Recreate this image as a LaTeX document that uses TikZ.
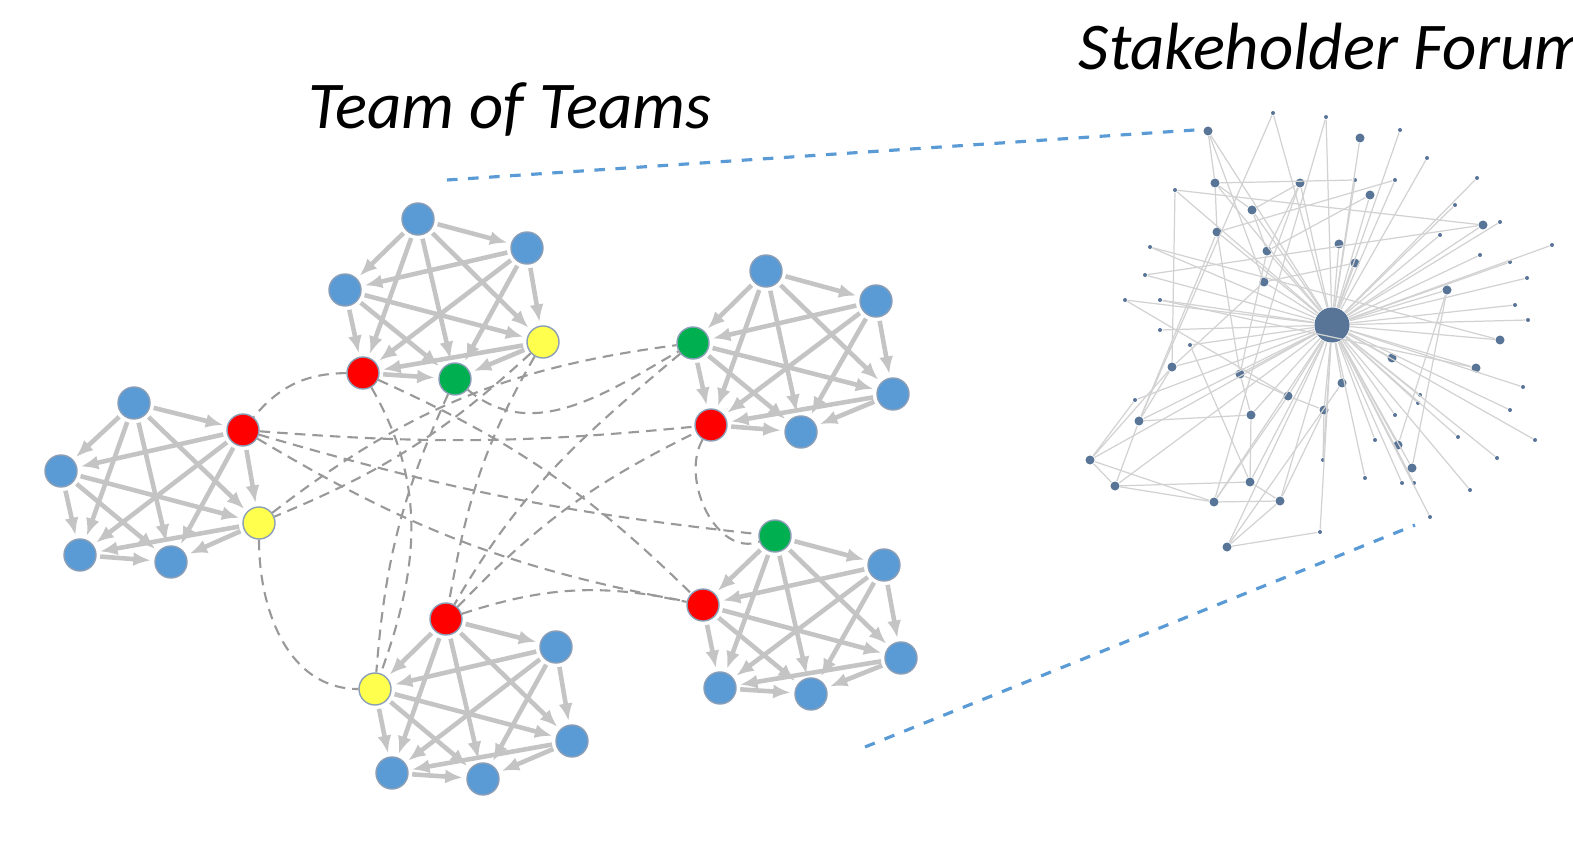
\documentclass[tikz,border=0pt]{standalone}
\usepackage{fontspec}
\setmainfont{Carlito}
\usetikzlibrary{arrows.meta}
\definecolor{nblue}{HTML}{5B9BD5}
\definecolor{nred}{HTML}{FF0000}
\definecolor{ngreen}{HTML}{00B050}
\definecolor{nyellow}{HTML}{FFFF4D}
\definecolor{hubblue}{HTML}{587497}
\definecolor{edgegray}{HTML}{C4C4C4}
\tikzset{
	member/.style={circle, draw=hubblue!70, line width=0.4pt, minimum size=0.32cm, inner sep=0pt},
	link/.style={-{Latex[length=5pt,width=4pt]}, edgegray, line width=1.3pt, shorten >=1pt, shorten <=1pt},
	bridge/.style={densely dashed, gray!80, line width=0.6pt},
	zoomline/.style={dashed, nblue, line width=0.9pt},
	hub/.style={circle, fill=hubblue, inner sep=0pt},
	spoke/.style={gray!35, line width=0.35pt},
	title/.style={font=\itshape\fontsize{19}{22}\selectfont}
}
\begin{document}
\begin{tikzpicture}[x=0.01cm,y=-0.01cm]
	\useasboundingbox (0,0) rectangle (1573,843);
	% Titles
	\node[title] (tt) at (510,110) {Team of Teams};
	\node[title] (sf) at (1333,47) {Stakeholder Forum};
	
	% Stakeholder network
	\node (hub) [hub, minimum size=0.35cm] at (1332,325) {};
	\foreach \p [count=\i] in {(1300,183),(1267,251),(1264,282),(1339,244),(1447,290),(1342,383),(1172,367),(1240,374),(1288,396),(1324,410),(1139,421),(1115,486),(1214,502),(1280,501),(1250,482),(1251,415),(1217,232),(1215,183),(1252,210),(1355,263),(1392,358),(1370,195),(1227,547),(1090,460),(1208,131),(1360,138),(1412,468),(1398,445),(1476,368),(1483,225),(1500,340)}
		\node (m\i) [hub, minimum size=0.09cm] at \p {};
	\foreach \p [count=\i] in {(1273,113),(1326,117),(1400,130),(1355,180),(1427,158),(1395,180),(1477,178),(1500,222),(1510,262),(1527,278),(1528,320),(1523,387),(1510,410),(1497,458),(1535,440),(1470,490),(1430,517),(1414,483),(1458,437),(1402,483),(1320,532),(1323,460),(1365,478),(1418,403),(1175,190),(1150,247),(1160,300),(1125,300),(1145,275),(1190,345),(1135,400),(1160,330),(1552,245),(1515,305),(1480,255),(1420,395),(1395,415),(1375,440),(1440,235),(1455,205)}
		\node (p\i) [hub, minimum size=0.04cm] at \p {};
	\foreach \i in {1,...,31} \draw[spoke] (hub) -- (m\i);
	\foreach \i in {1,...,40} \draw[spoke] (hub) -- (p\i);
	\foreach \a/\b in {1/2,1/3,2/8,3/7,7/11,11/12,12/13,13/14,14/15,15/16,16/8,8/9,9/10,7/24,24/12,11/16,18/19,19/2,25/18,25/3,17/8,17/11,13/9,14/10,24/13,12/15,23/14,5/27,5/28,6/23,20/3,22/2,1/19,18/17}
		\draw[spoke] (m\a) -- (m\b);
	\foreach \a/\b in {25/7,25/30,26/31,27/29,28/9,29/30,30/15,31/24,4/18,6/17,2/13,1/11,21/23,22/10}
		\draw[spoke] (p\a) -- (m\b);
	
	% Teams
	\foreach \team/\members in {a/{(418,219)/nblue,(527,248)/nblue,(345,290)/nblue,(543,342)/nyellow,(363,373)/nred,(455,379)/ngreen},
		b/{(766,271)/nblue,(876,301)/nblue,(693,343)/ngreen,(893,394)/nblue,(711,425)/nred,(801,432)/nblue},
		c/{(134,403)/nblue,(243,430)/nred,(61,471)/nblue,(259,523)/nyellow,(80,555)/nblue,(171,562)/nblue},
		d/{(775,536)/ngreen,(884,565)/nblue,(703,605)/nred,(901,658)/nblue,(720,688)/nblue,(811,694)/nblue},
		e/{(446,619)/nred,(556,647)/nblue,(375,689)/nyellow,(572,741)/nblue,(392,773)/nblue,(483,779)/nblue}}
	{
		\foreach \p/\col [count=\k] in \members
			\node (\team\k) [member, fill=\col] at \p {};
		\foreach \k in {1,...,5}{
			\pgfmathtruncatemacro\nxt{\k+1}
			\foreach \j in {\nxt,...,6}
				\draw[link] (\team\k) -- (\team\j);
		}
	}
	
	% Links between teams
	\draw[bridge] (a5) to[bend right=25] (c2);
	\draw[bridge] (a6) to[out=-40,in=-150] (b3);
	\draw[bridge] (a4) to[bend left=10] (c4);
	\draw[bridge] (a5) to[bend left=10] (d3);
	\draw[bridge] (a5) to[out=-60,in=70] (e3);
	\draw[bridge] (a4) to[out=-120,in=80] (e1);
	\draw[bridge] (c2) to[bend right=5] (b5);
	\draw[bridge] (c2) to[bend right=10] (d3);
	\draw[bridge] (c2) to[bend right=5] (d1);
	\draw[bridge] (c4) to[bend left=15] (b3);
	\draw[bridge] (c4) to[out=-90,in=180] (e3);
	\draw[bridge] (e1) to[bend left=10] (b5);
	\draw[bridge] (e1) to[bend left=15] (d3);
	\draw[bridge] (b5) to[out=-120,in=-160] (d1);
	\draw[bridge] (b3) to[out=-140,in=60] (e1);
	\draw[bridge] (a6) to[bend right=10] (e3);
	
	% Zoom lines
	\coordinate (z1) at (447,180);
	\coordinate (z2) at (1195,130);
	\coordinate (z3) at (865,747);
	\coordinate (z4) at (1415,525);
	\draw[zoomline] (z1) -- (z2);
	\draw[zoomline] (z3) -- (z4);
\end{tikzpicture}
\end{document}
